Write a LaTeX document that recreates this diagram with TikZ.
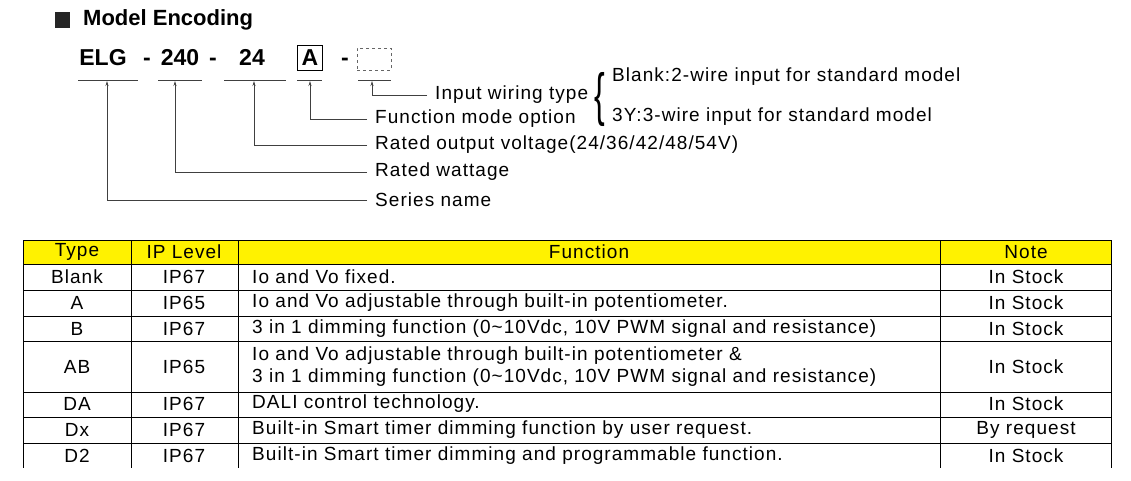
\documentclass[tikz,border=0pt]{standalone}
\usepackage{fontspec}
\setmainfont{Liberation Sans}
\newfontfamily\widefont[LetterSpace=5.5]{Liberation Sans}
\usetikzlibrary{arrows.meta}
\begin{document}
\begin{tikzpicture}[x=1pt,y=-1pt,
  lbl/.style={anchor=west,inner sep=0pt,font=\widefont\fontsize{19}{21}\selectfont},
  code/.style={inner sep=0pt,anchor=base,font=\fontsize{23}{24}\selectfont\bfseries},
  cell/.style={inner sep=0pt,font=\widefont\fontsize{19}{22}\selectfont},
  ln/.style={draw=black!75,line width=0.8pt},
  arr/.style={ln,-{Stealth[length=5pt,width=3pt]}},
  grid/.style={draw=black,line width=1pt}]
\useasboundingbox (0,0) rectangle (1131,480);
% title
\fill[black!85] (55,12) rectangle (70,28);
\node[anchor=west,inner sep=0pt,font=\fontsize{22}{24}\selectfont\bfseries] (title) at (83,20) {Model Encoding};
% code
\node[code] (elg) at (103,65) {ELG};
\node[code] (d1) at (147,65) {-};
\node[code] (w) at (180,65) {240};
\node[code] (d2) at (213,65) {-};
\node[code] (v) at (252,65) {24};
\draw[line width=1pt] (297,45) rectangle (322,70);
\node[code] (a) at (310,65) {A};
\node[code] (d3) at (345,65) {-};
\node[draw=black!60,dashed,minimum width=34pt,minimum height=22pt,inner sep=0pt] (box) at (374,59) {};
% underlines
\draw[ln] (78,80) -- (138,80);
\draw[ln] (158,80) -- (202,80);
\draw[ln] (224,80) -- (286,80);
\draw[ln] (297,80) -- (322,80);
\draw[ln] (358,80) -- (391,80);
% labels
\node[lbl] (l5) at (435,95) {Input wiring type};
\node[lbl] (l4) at (375,119) {Function mode option};
\node[lbl] (l3) at (375,145) {Rated output voltage(24/36/42/48/54V)};
\node[lbl] (l2) at (375,172) {Rated wattage};
\node[lbl] (l1) at (375,200) {Series name};
\draw[arr] (l5.west) ++(-8,0) -- (372,95) -- (372,81);
\draw[arr] (l4.west) ++(-8,0) -- (310,119) -- (310,81);
\draw[arr] (l3.west) ++(-8,0) -- (254,145) -- (254,81);
\draw[arr] (l2.west) ++(-8,0) -- (175,172) -- (175,81);
\draw[arr] (l1.west) ++(-8,0) -- (107,200) -- (107,81);
% brace
\node[inner sep=0pt,font=\fontsize{40}{40}\selectfont,yscale=1.45,xscale=0.8] (br) at (600,99) {\{};
\node[lbl] (o1) at (612,77) {Blank:2-wire input for standard model};
\node[lbl] (o2) at (612,117) {3Y:3-wire input for standard model};
% table
\fill[yellow] (23,240) rectangle (1111,264);
\foreach \y in {240,264,290,316,341,392,417,443} \draw[grid] (23,\y) -- (1111,\y);
\foreach \x in {23,131,238,940,1111} \draw[grid] (\x,240) -- (\x,468);
\node[cell] (h1) at (77,252) {Type};
\node[cell] (h2) at (184,252) {IP Level};
\node[cell] (h3) at (589,252) {Function};
\node[cell] (h4) at (1026,252) {Note};
\foreach \t/\ip/\f/\n/\y [count=\i] in {
  Blank/IP67/Io and Vo fixed./In Stock/277,
  A/IP65/Io and Vo adjustable through built-in potentiometer./In Stock/303,
  B/IP67/{3 in 1 dimming function (0\textasciitilde10Vdc, 10V PWM signal and resistance)}/In Stock/329,
  DA/IP67/DALI control technology./In Stock/404,
  Dx/IP67/Built-in Smart timer dimming function by user request./By request/430,
  D2/IP67/Built-in Smart timer dimming and programmable function./In Stock/456} {
  \node[cell] (t\i) at (77,\y) {\t};
  \node[cell] (p\i) at (184,\y) {\ip};
  \node[cell,anchor=west] (f\i) at (252,\y) {\f};
  \node[cell] (n\i) at (1026,\y) {\n};
}
\node[cell] (tab) at (77,367) {AB};
\node[cell] (pab) at (184,367) {IP65};
\node[cell,anchor=west,align=left] (fab) at (252,367) {Io and Vo adjustable through built-in potentiometer \&\\3 in 1 dimming function (0\textasciitilde10Vdc, 10V PWM signal and resistance)};
\node[cell] (nab) at (1026,367) {In Stock};
\end{tikzpicture}
\end{document}
